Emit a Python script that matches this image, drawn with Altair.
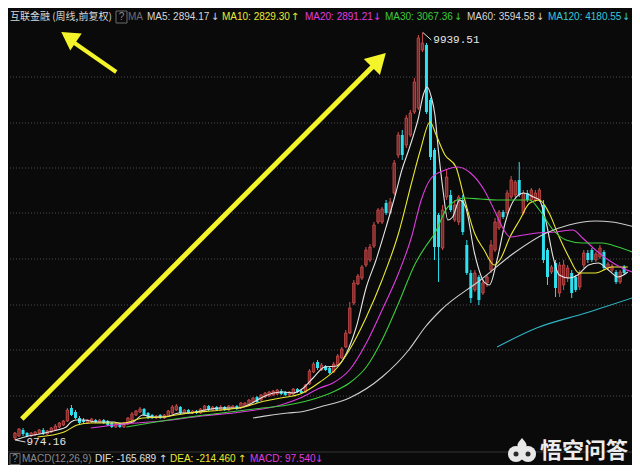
import altair as alt
import pandas as pd

# ---------------- data (weekly candles, price units) ----------------
IDX = list(range(152))
OPEN = [1018, 1062, 1194, 1128, 1062, 1084, 1128, 1194, 1106, 1150,
        1194, 1260, 1304, 1392, 1678, 1590, 1458, 1414, 1348, 1370,
        1414, 1370, 1414, 1392, 1348, 1260, 1326, 1260, 1326, 1414,
        1524, 1590, 1656, 1568, 1524, 1458, 1524, 1458, 1502, 1568,
        1634, 1700, 1568, 1634, 1568, 1612, 1568, 1634, 1722, 1634,
        1700, 1634, 1700, 1634, 1678, 1722, 1678, 1722, 1744, 1810,
        1920, 1854, 1920, 1942, 1964, 1986, 2052, 2030, 1964, 1986,
        2096, 2052, 2030, 2206, 2470, 2690, 2514, 2602, 2558, 2470,
        2624, 2778, 3020, 3328, 3988, 4406, 4538, 4824, 4934, 5242,
        5770, 5770, 6188, 5968, 6408, 7244, 7684, 7464, 7684, 8190,
        8278, 9554, 9664, 8454, 7354, 5924, 5198, 6320, 6364, 5814,
        5770, 6254, 5264, 4648, 4274, 4560, 4208, 4428, 4714, 5154,
        5638, 5990, 5968, 6320, 6364, 6694, 5968, 6408, 6254, 6254,
        6254, 6144, 5154, 4670, 4868, 4208, 4384, 4538, 4648, 4560,
        4340, 4824, 5088, 5154, 4934, 5000, 5110, 4758, 4714, 4670,
        4450, 4780]
CLOSE = [1128, 1216, 1106, 1062, 1128, 1150, 1194, 1106, 1172, 1238,
         1282, 1348, 1392, 1634, 1524, 1458, 1348, 1370, 1414, 1436,
         1370, 1414, 1348, 1304, 1260, 1326, 1260, 1348, 1458, 1546,
         1612, 1656, 1524, 1458, 1458, 1502, 1458, 1524, 1612, 1700,
         1722, 1568, 1634, 1568, 1612, 1568, 1656, 1722, 1634, 1700,
         1634, 1700, 1634, 1722, 1722, 1656, 1788, 1788, 1854, 1898,
         1810, 1964, 2008, 2030, 2052, 2074, 1986, 1964, 2030, 2096,
         2030, 2008, 2184, 2492, 2646, 2558, 2624, 2514, 2448, 2646,
         2822, 2976, 3328, 3878, 4428, 4582, 4780, 5154, 5220, 5704,
         6034, 6056, 5968, 6210, 7068, 7684, 7244, 8058, 8168, 8850,
         9818, 9708, 8190, 7200, 5220, 5220, 6034, 6760, 6034, 6144,
         6320, 5550, 4648, 4098, 4648, 4054, 4428, 4560, 5264, 5770,
         5990, 5880, 6408, 6694, 6650, 6364, 6408, 6254, 6474, 6408,
         6474, 4934, 4560, 4780, 4318, 4824, 4824, 4758, 4208, 4274,
         4648, 5088, 4934, 4934, 5066, 5198, 4758, 4846, 4802, 4450,
         4670, 4648]
HIGH = [1150, 1238, 1238, 1150, 1150, 1172, 1216, 1238, 1194, 1260,
        1326, 1370, 1414, 1678, 1744, 1634, 1502, 1458, 1436, 1458,
        1436, 1436, 1436, 1414, 1370, 1348, 1348, 1370, 1480, 1590,
        1634, 1700, 1678, 1590, 1546, 1524, 1546, 1546, 1634, 1744,
        1766, 1722, 1656, 1656, 1634, 1634, 1678, 1744, 1744, 1722,
        1722, 1744, 1722, 1744, 1744, 1744, 1810, 1810, 1876, 1920,
        1942, 1986, 2030, 2052, 2074, 2096, 2096, 2052, 2052, 2118,
        2118, 2074, 2206, 2536, 2690, 2734, 2668, 2624, 2602, 2690,
        2866, 3020, 3394, 4010, 4494, 4626, 4824, 5220, 5286, 5770,
        6078, 6100, 6254, 6298, 7134, 7750, 7794, 8124, 8234, 8938,
        9884, 9939.51, 9708, 8498, 7398, 5968, 6144, 6914, 6474, 6254,
        6364, 6364, 5374, 4714, 4714, 4604, 4494, 4604, 5374, 5858,
        6034, 6034, 6474, 6782, 6694, 7090, 6474, 6474, 6518, 6474,
        6518, 6254, 5198, 4824, 4934, 4890, 4934, 4824, 4714, 4604,
        4714, 5154, 5154, 5198, 5110, 5264, 5154, 4890, 4846, 4714,
        4714, 4824]
LOW = [974.16, 1040, 1062, 1040, 1040, 1062, 1106, 1084, 1084, 1128,
       1172, 1238, 1282, 1370, 1502, 1436, 1326, 1326, 1326, 1348,
       1348, 1348, 1326, 1282, 1238, 1238, 1238, 1238, 1304, 1392,
       1502, 1568, 1502, 1436, 1436, 1436, 1436, 1436, 1480, 1546,
       1612, 1546, 1546, 1546, 1546, 1546, 1546, 1612, 1612, 1612,
       1612, 1612, 1612, 1612, 1656, 1634, 1656, 1700, 1722, 1788,
       1788, 1832, 1898, 1920, 1942, 1964, 1964, 1942, 1942, 1964,
       2008, 1986, 2008, 2184, 2448, 2514, 2492, 2492, 2426, 2448,
       2602, 2756, 2998, 3306, 3944, 4384, 4494, 4780, 4890, 5198,
       5726, 5726, 5924, 5946, 6364, 7178, 7134, 7398, 7640, 8146,
       8234, 9510, 8146, 7134, 4934, 4450, 5154, 6254, 5990, 5770,
       5704, 5484, 4604, 3988, 4230, 3944, 4164, 4340, 4648, 5110,
       5594, 5836, 5924, 6276, 6320, 6320, 5924, 6210, 6210, 6210,
       6210, 4868, 4384, 4626, 4120, 4120, 4274, 4450, 4098, 4230,
       4274, 4758, 4868, 4890, 4890, 4956, 4714, 4714, 4670, 4406,
       4406, 4604]

# moving-average lines: (week index, price)
MA5 = [(0, 974), (2.4, 1040), (7.3, 1128), (10.5, 1194), (12.7, 1260), (13.9, 1370),
       (15.1, 1414), (17.1, 1414), (20.2, 1370), (24.4, 1370), (26.8, 1326), (29.3, 1370),
       (31.7, 1524), (34.1, 1480), (37.3, 1480), (40.7, 1568), (43.2, 1568), (47.1, 1634),
       (51.2, 1678), (55.4, 1678), (57.8, 1744), (61, 1898), (64.1, 2008), (66.6, 2030),
       (69, 2008), (71.5, 2118), (73.9, 2338), (76.8, 2580), (79.8, 2602), (82.2, 2888),
       (84.6, 3460), (87.1, 4340), (89.5, 4934), (92, 5660), (94.4, 6408), (95.9, 6914),
       (97.6, 7354), (98.8, 7684), (100, 8058), (101.2, 8564), (102.2, 8740), (103.2, 8520),
       (104.1, 8124), (104.9, 7398), (106.1, 6474), (107.3, 5814), (108.5, 5880), (110.2, 6254),
       (111.7, 6100), (113.9, 5088), (116.3, 4450), (117.6, 4384), (119.5, 4934), (121.5, 5748),
       (123.7, 6254), (126.1, 6408), (128.5, 6320), (130, 6254), (131.7, 5748), (133.4, 4996),
       (134.9, 4604), (137.3, 4538), (139.5, 4604), (142.2, 4824), (144.6, 4868), (147.1, 4714),
       (149.5, 4560), (151.9, 4670)]
MA10 = [(5.6, 1040), (12.2, 1150), (15.4, 1304), (18.8, 1348), (24.4, 1348), (26.8, 1348),
        (31.7, 1458), (36.6, 1480), (43.2, 1568), (51.2, 1634), (56.8, 1700), (61, 1810),
        (65.9, 1898), (70.7, 1986), (75.6, 2250), (79.8, 2558), (82.9, 2954), (87.1, 3680),
        (91, 4494), (95.1, 5528), (98.3, 6628), (100.5, 7354), (102.9, 7970), (104.4, 7684),
        (106.6, 7244), (109.3, 6980), (111.5, 6254), (113.9, 5528), (116.3, 5154), (118.8, 4824),
        (120.2, 4934), (122.7, 5440), (125.1, 5814), (127.6, 6188), (130, 6254), (132.4, 5968),
        (134.9, 5440), (137.3, 5000), (139.8, 4648), (143.9, 4648), (148, 4780), (151.9, 4780)]
MA20 = [(18.8, 1238), (26.8, 1326), (36.6, 1392), (46.3, 1502), (56.1, 1590), (65.9, 1744),
        (70.7, 1898), (75.6, 2118), (78.8, 2228), (82.9, 2514), (87.1, 3108), (91, 3834),
        (95.1, 4648), (98.3, 5440), (100.7, 6254), (103.2, 6738), (106.6, 6914), (109.8, 6980),
        (112.9, 6848), (116.3, 6474), (118.8, 6034), (121.2, 5594), (122.7, 5440), (126.1, 5484),
        (129.3, 5528), (134.1, 5550), (138.3, 5594), (140.7, 5418), (143.9, 5154), (147.1, 4934),
        (150.5, 4758), (153.7, 4648)]
MA30 = [(27.6, 1260), (34.9, 1370), (43.2, 1480), (51.2, 1568), (59.3, 1656), (67.6, 1744),
        (73.2, 1854), (78.8, 2030), (82.9, 2228), (87.1, 2580), (91, 3174), (95.1, 3988),
        (99.3, 4868), (101.7, 5220), (104.1, 5528), (107.3, 6100), (111.5, 6298), (115.4, 6276),
        (119.5, 6254), (123.7, 6254), (127.6, 6254), (130, 6034), (133.4, 5594), (136.6, 5374),
        (140.7, 5308), (145.6, 5308), (149.5, 5220), (153.7, 5088)]
MA60 = [(59, 1458), (67.6, 1568), (70.7, 1590), (75.6, 1700), (82.9, 1898), (91, 2360),
        (97.6, 2954), (101.7, 3460), (105.6, 3834), (115.4, 4494), (123.7, 5088), (131.7, 5528),
        (137.3, 5704), (143.9, 5792), (148, 5770), (153.7, 5660)]
MA120 = [(119.5, 3020), (129.3, 3438), (141.5, 3768), (153.7, 4120)]

GRID = [1942, 2954, 3944, 4956, 5968, 6958, 7948, 8960]

TITLE = "互联金融 (周线,前复权)"
HEADER = ["MA5: 2894.17", "MA10: 2829.30", "MA20: 2891.21", "MA30: 3067.36", "MA60: 3594.58", "MA120: 4180.55"]
HEADER_ARROWS = ["↓", "↑", "↓", "↓", "↓", "↓"]
FOOTER = ["DIF: -165.689", "DEA: -214.460", "MACD: 97.540"]
FOOTER_ARROWS = ["↑", "↑", "↓"]
PEAK_LABEL = "9939.51"
LOW_LABEL = "974.16"

# annotation arrows (week index, price)
BIG_ARROW = [(1.7, 1436), (89.8, 9290)]
BIG_HEAD = (90.2, 9334)
SMALL_ARROW = [(25.1, 9070), (13.7, 9774)]
SMALL_HEAD = (13.3, 9840)

# ---------------- chart ----------------
W, H = 624, 457
BG = "#0a0a0a"
xs = alt.Scale(domain=[-0.488, 151.71], nice=False, zero=False)
ys = alt.Scale(domain=[424, 10478], nice=False, zero=False)
X = lambda f: alt.X(f, type="quantitative", scale=xs, axis=None)
Y = lambda f: alt.Y(f, type="quantitative", scale=ys, axis=None)

df = pd.DataFrame({"i": IDX, "o": OPEN, "c": CLOSE, "h": HIGH, "l": LOW})
df["dir"] = ["up" if c >= o else "down" for o, c in zip(OPEN, CLOSE)]
base = alt.Chart(df)
up = base.transform_filter("datum.dir == 'up'")
down = base.transform_filter("datum.dir == 'down'")

RED = "#d24e4e"
CYAN = "#2fe0ee"

layers = []

grid = alt.Chart(pd.DataFrame({"g": GRID})).mark_rule(
    color="#4a4a4a", strokeDash=[1, 2], strokeWidth=1
).encode(y=Y("g"))
layers.append(grid)

layers.append(down.mark_rule(color=CYAN, strokeWidth=1).encode(x=X("i"), y=Y("l"), y2="h"))
layers.append(up.mark_rule(color=RED, strokeWidth=1).encode(x=X("i"), y=Y("l"), y2="h"))
layers.append(down.mark_bar(size=3, color=CYAN).encode(x=X("i"), y=Y("o"), y2="c"))
layers.append(up.mark_bar(size=2.4, fill="#7a2828", stroke=RED, strokeWidth=0.8).encode(
    x=X("i"), y=Y("o"), y2="c"))

MA_NAMES = ["MA5", "MA10", "MA20", "MA30", "MA60", "MA120"]
MA_COLORS = ["#e6e6e6", "#e8e832", "#e03ce0", "#3ccc3c", "#cfcfcf", "#2fb4c6"]
rows = []
for name, pts in zip(MA_NAMES, [MA5, MA10, MA20, MA30, MA60, MA120]):
    for a, b in pts:
        rows.append({"s": name, "i": a, "p": b})
ma = alt.Chart(pd.DataFrame(rows)).mark_line(interpolate="monotone", strokeWidth=1.1, clip=True).encode(
    x=X("i"), y=Y("p"),
    color=alt.Color("s:N", scale=alt.Scale(domain=MA_NAMES, range=MA_COLORS), legend=None),
)
layers.append(ma)

# yellow arrows
YEL = "#f4f42a"
big = alt.Chart(pd.DataFrame({"i": [BIG_ARROW[0][0]], "p": [BIG_ARROW[0][1]],
                              "i2": [BIG_ARROW[1][0]], "p2": [BIG_ARROW[1][1]]}))
layers.append(big.mark_rule(color=YEL, strokeWidth=5).encode(x=X("i"), y=Y("p"), x2="i2", y2="p2"))
layers.append(alt.Chart(pd.DataFrame({"i": [BIG_HEAD[0]], "p": [BIG_HEAD[1]]})).mark_point(
    shape="triangle-up", filled=True, size=520, color=YEL, opacity=1, angle=45).encode(x=X("i"), y=Y("p")))
small = alt.Chart(pd.DataFrame({"i": [SMALL_ARROW[0][0]], "p": [SMALL_ARROW[0][1]],
                                "i2": [SMALL_ARROW[1][0]], "p2": [SMALL_ARROW[1][1]]}))
layers.append(small.mark_rule(color=YEL, strokeWidth=4).encode(x=X("i"), y=Y("p"), x2="i2", y2="p2"))
layers.append(alt.Chart(pd.DataFrame({"i": [SMALL_HEAD[0]], "p": [SMALL_HEAD[1]]})).mark_point(
    shape="triangle-up", filled=True, size=420, color=YEL, opacity=1, angle=304).encode(x=X("i"), y=Y("p")))

# peak / low labels
peak = alt.Chart(pd.DataFrame({"i": [101.1], "p": [9939.51], "i2": [103.2], "p2": [9774], "t": [PEAK_LABEL]}))
layers.append(peak.mark_rule(color="#e0e0e0", strokeWidth=1).encode(x=X("i"), y=Y("p"), x2="i2", y2="p2"))
layers.append(peak.mark_text(align="left", baseline="middle", font="Liberation Mono", fontSize=11,
                             color="#e6e6e6", dx=2).encode(x=X("i2"), y=Y("p2"), text="t:N"))
low = alt.Chart(pd.DataFrame({"i": [0.1], "p": [974.16], "i2": [2.6], "p2": [930], "t": [LOW_LABEL]}))
layers.append(low.mark_rule(color="#e0e0e0", strokeWidth=1).encode(x=X("i"), y=Y("p"), x2="i2", y2="p2"))
layers.append(low.mark_text(align="left", baseline="middle", font="Liberation Mono", fontSize=11,
                            color="#e6e6e6", dx=1).encode(x=X("i2"), y=Y("p2"), text="t:N"))


def label(text, x, y, color, size=10, font="Liberation Sans", align="left", weight="normal"):
    return alt.Chart(pd.DataFrame({"t": [text]})).mark_text(
        align=align, baseline="middle", color=color, fontSize=size, font=font, fontWeight=weight
    ).encode(text="t:N", x=alt.value(x), y=alt.value(y))


def box(x1, x2, y1, y2):
    return alt.Chart(pd.DataFrame({"t": ["?"]})).mark_rect(
        filled=False, stroke="#6a6a6a", strokeWidth=1
    ).encode(x=alt.value(x1), x2=alt.value(x2), y=alt.value(y1), y2=alt.value(y2))


# header
HY = 9
layers.append(label(TITLE, 2, HY, "#d8d8d8", size=10, font="Noto Sans CJK SC"))
layers.append(box(108, 119, 3, 15))
layers.append(label("?", 113.5, HY, "#8a8a8a", size=10, align="center"))
layers.append(label("MA", 120, HY, "#6e6e6e", size=10))
HX = [139, 214, 297, 377, 459, 540]
HA = [207, 287, 369, 450, 532, 618]
HC = ["#d6d6d6", "#e8e832", "#e03ce0", "#3ccc3c", "#d6d6d6", "#38c8d8"]
for t, a, x, ax, c in zip(HEADER, HEADER_ARROWS, HX, HA, HC):
    layers.append(label(t, x, HY, c, size=10))
    layers.append(label(a, ax, HY, c, size=10, font="DejaVu Sans", align="center"))

# bottom separator + MACD row
layers.append(alt.Chart(pd.DataFrame({"t": [0]})).mark_rule(color="#333333", strokeWidth=1).encode(
    x=alt.value(0), x2=alt.value(W), y=alt.value(444)))
FY = 451
layers.append(box(2, 12, 445.5, 456.5))
layers.append(label("?", 7, FY, "#8a8a8a", size=10, align="center"))
layers.append(label("MACD(12,26,9)", 14, FY, "#8a8a8a", size=10))
FX = [87, 162, 242]
FA = [155, 234, 311]
FC = ["#e0e0e0", "#e8e832", "#e03ce0"]
for t, a, x, ax, c in zip(FOOTER, FOOTER_ARROWS, FX, FA, FC):
    layers.append(label(t, x, FY, c, size=10))
    layers.append(label(a, ax, FY, c, size=10, font="DejaVu Sans", align="center"))

# watermark
DROP = ("M0,-1 C0.35,-0.55 0.75,-0.2 0.75,0.2 C0.75,0.6 0.4,0.9 0,0.9 "
        "C-0.4,0.9 -0.75,0.6 -0.75,0.2 C-0.75,-0.2 -0.35,-0.55 0,-1 Z")
wm = alt.Chart(pd.DataFrame({"t": ["悟空问答"]}))
layers.append(wm.mark_point(shape=DROP, filled=True, size=150, color="#e8e8e8", opacity=1).encode(
    x=alt.value(514), y=alt.value(436)))
layers.append(wm.mark_point(shape="circle", filled=True, size=260, color="#e8e8e8", opacity=1).encode(
    x=alt.value(508), y=alt.value(446)))
layers.append(wm.mark_point(shape="circle", filled=True, size=260, color="#e8e8e8", opacity=1).encode(
    x=alt.value(520), y=alt.value(446)))
layers.append(wm.mark_point(shape="circle", filled=True, size=25, color="#2a2a2a", opacity=1).encode(
    x=alt.value(508), y=alt.value(446)))
layers.append(wm.mark_point(shape="circle", filled=True, size=25, color="#2a2a2a", opacity=1).encode(
    x=alt.value(520), y=alt.value(446)))
layers.append(label("悟空问答", 532, 443, "#ececec", size=22, font="Noto Sans CJK SC", weight="bold"))

chart = alt.layer(*layers).properties(
    width=W, height=H, padding=0,
    autosize=alt.AutoSizeParams(type="none"),
    background=BG,
).configure_view(stroke=None)

chart.save("out.html", embed_options={"renderer": "svg", "actions": False})
